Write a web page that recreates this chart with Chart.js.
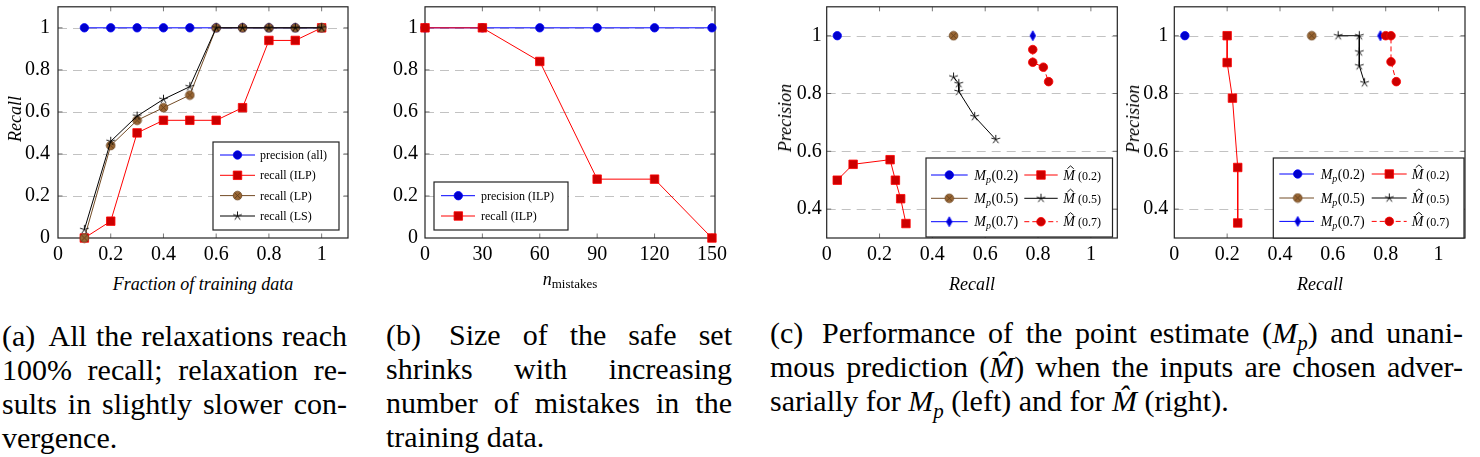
<!DOCTYPE html>
<html><head><meta charset="utf-8">
<script src="https://cdn.jsdelivr.net/npm/chart.js@4.4.0/dist/chart.umd.min.js"></script>
<style>
html,body{margin:0;padding:0;background:#fff;}
body{width:1480px;height:457px;position:relative;overflow:hidden;font-family:'Liberation Serif';color:#000;}
canvas{position:absolute;top:0;}
.t{position:absolute;font-family:'Liberation Serif';font-style:italic;font-size:18px;line-height:18px;white-space:nowrap;}
.cap{position:absolute;font-family:'Liberation Serif';font-size:30px;line-height:34px;}
.cap div{text-align:justify;text-align-last:justify;}
.cap div.last{text-align:left;text-align-last:left;}
.cap sub{font-size:21px;vertical-align:-7px;line-height:0;font-style:italic;}
</style>
</head><body>
<canvas id="c1" width="360" height="270" style="left:0px"></canvas>
<canvas id="c2" width="360" height="270" style="left:370px"></canvas>
<canvas id="c3" width="370" height="270" style="left:760px"></canvas>
<canvas id="c4" width="360" height="270" style="left:1120px"></canvas>

<div class="t" style="left:15px;top:119px;transform:translate(-50%,-50%) rotate(-90deg);">Recall</div>
<div class="t" style="left:203px;top:284px;transform:translate(-50%,-50%);">Fraction of training data</div>
<div class="t" style="left:570px;top:270px;transform:translateX(-50%);"><i>n</i><span style="font-style:normal;font-size:13px;position:relative;top:3px;">mistakes</span></div>
<div class="t" style="left:785px;top:118px;transform:translate(-50%,-50%) rotate(-90deg);">Precision</div>
<div class="t" style="left:972px;top:284px;transform:translate(-50%,-50%);">Recall</div>
<div class="t" style="left:1133px;top:119px;transform:translate(-50%,-50%) rotate(-90deg);">Precision</div>
<div class="t" style="left:1320px;top:284px;transform:translate(-50%,-50%);">Recall</div>

<div class="cap" style="left:2px;top:319px;width:345px;">
<div><span style="margin-right:6px">(a)</span> All the relaxations reach</div>
<div>100% recall; relaxation re-</div>
<div>sults in slightly slower con-</div>
<div class="last">vergence.</div>
</div>
<div class="cap" style="left:386px;top:318px;width:346px;">
<div><span style="margin-right:6px">(b)</span> Size of the safe set</div>
<div>shrinks with increasing</div>
<div>number of mistakes in the</div>
<div class="last">training data.</div>
</div>
<div class="cap" style="left:770px;top:316px;width:693px;">
<div><span style="margin-right:6px">(c)</span> Performance of the point estimate (<i>M</i><sub>p</sub>) and unani-</div>
<div>mous prediction (<i>M&#770;</i>) when the inputs are chosen adver-</div>
<div class="last">sarially for <i>M</i><sub>p</sub> (left) and for <i>M&#770;</i> (right).</div>
</div>

<script>
// ---------------- data ----------------
// (a) fraction of training data
const fracX      = [0.1, 0.2, 0.3, 0.4, 0.5, 0.6, 0.7, 0.8, 0.9, 1.0];
const precAll    = [1, 1, 1, 1, 1, 1, 1, 1, 1, 1];
const recallILP  = [0, 0.08, 0.5, 0.56, 0.56, 0.56, 0.62, 0.94, 0.94, 1];
const recallLP   = [0, 0.44, 0.56, 0.62, 0.68, 1, 1, 1, 1, 1];
const recallLS   = [0.04, 0.46, 0.58, 0.66, 0.72, 1, 1, 1, 1, 1];
const fracTicks  = [0, 0.2, 0.4, 0.6, 0.8, 1];
const rateTicks  = [0, 0.2, 0.4, 0.6, 0.8, 1];

// (b) number of mistakes
const mistakesX      = [0, 30, 60, 90, 120, 150];
const precILPm       = [1, 1, 1, 1, 1, 1];
const recallILPm     = [1, 1, 0.84, 0.28, 0.28, 0];
const mistakesTicks  = [0, 30, 60, 90, 120, 150];

// (c) left: adversarial for M_p   (x = recall, y = precision)
const lMp02R = [0.04], lMp02P = [1];
const lMh02R = [0.04, 0.10, 0.24, 0.26, 0.28, 0.30];
const lMh02P = [0.50, 0.555, 0.571, 0.50, 0.436, 0.35];
const lMp05R = [0.48], lMp05P = [1];
const lMh05R = [0.48, 0.50, 0.50, 0.56, 0.64];
const lMh05P = [0.857, 0.834, 0.807, 0.72, 0.641];
const lMp07R = [0.78], lMp07P = [1];
const lMh07R = [0.78, 0.78, 0.82, 0.84];
const lMh07P = [0.952, 0.908, 0.891, 0.841];

// (c) right: adversarial for M-hat
const rMp02R = [0.04], rMp02P = [1];
const rMh02R = [0.20, 0.20, 0.22, 0.24, 0.24];
const rMh02P = [1, 0.907, 0.784, 0.544, 0.352];
const rMp05R = [0.52], rMp05P = [1];
const rMh05R = [0.62, 0.70, 0.70, 0.70, 0.72];
const rMh05P = [1, 1, 0.944, 0.896, 0.837];
const rMp07R = [0.78], rMp07P = [1];
const rMh07R = [0.80, 0.82, 0.82, 0.84];
const rMh07P = [1, 1, 0.91, 0.841];

const prTicksX = [0, 0.2, 0.4, 0.6, 0.8, 1];
const prTicksY = [0.4, 0.6, 0.8, 1];

// ---------------- marker images ----------------
function mkCanvas(w, h, draw) { const c = document.createElement('canvas'); c.width = w; c.height = h; draw(c.getContext('2d'), w, h); return c; }
const starImg = mkCanvas(11, 11, (g) => {
  g.strokeStyle = '#000'; g.lineWidth = 0.9; g.beginPath();
  for (let k = 0; k < 5; k++) { const a = -Math.PI / 2 + k * 2 * Math.PI / 5; g.moveTo(5.5, 5.5); g.lineTo(5.5 + 4.6 * Math.cos(a), 5.5 + 4.6 * Math.sin(a)); }
  g.stroke();
});
const otimesImg = mkCanvas(11, 11, (g) => {
  g.fillStyle = '#996633'; g.strokeStyle = '#734C26'; g.lineWidth = 0.9;
  g.beginPath(); g.arc(5.5, 5.5, 4.3, 0, Math.PI * 2); g.fill(); g.stroke();
  g.beginPath(); const d = 3.0;
  g.moveTo(5.5 - d, 5.5 - d); g.lineTo(5.5 + d, 5.5 + d); g.moveTo(5.5 + d, 5.5 - d); g.lineTo(5.5 - d, 5.5 + d);
  g.strokeStyle = '#5a3a1a'; g.lineWidth = 0.8; g.stroke();
});
const diamondImg = mkCanvas(8, 12, (g) => {
  g.fillStyle = '#0000CC'; g.strokeStyle = '#0000FF'; g.lineWidth = 0.8;
  g.beginPath(); g.moveTo(4, 1); g.lineTo(6.8, 6); g.lineTo(4, 11); g.lineTo(1.2, 6); g.closePath(); g.fill(); g.stroke();
});

const STY = {
  blueCircle:  {line: '#0000FF', ps: 'circle', r: 4.2, bg: '#0000CC', bd: '#0000FF'},
  redSquare:   {line: '#FF0000', ps: 'rect', r: 6.0, bg: '#CC0000', bd: '#FF0000'},
  brownOtimes: {line: '#734C26', ps: otimesImg, r: 4.3},
  blackStar:   {line: '#000000', ps: starImg, r: 4.5},
  blueDiamond: {line: '#0000FF', ps: diamondImg, r: 4.5},
  redCircleD:  {line: '#FF0000', ps: 'circle', r: 4.3, bg: '#CC0000', bd: '#FF0000', dash: [5, 3]},
};

function mk(xs, ys, s, label) {
  return {
    label: label, data: xs.map((x, i) => ({x: x, y: ys[i]})), showLine: true, clip: false,
    borderColor: s.line, borderWidth: 1, borderDash: s.dash || [], tension: 0, fill: false,
    pointStyle: s.ps, pointRadius: s.r, pointHoverRadius: s.r,
    pointBackgroundColor: s.bg || s.line, pointBorderColor: s.bd || s.line, pointBorderWidth: 0.8,
  };
}

// ---------------- plugins ----------------
const framePlugin = {
  id: 'frame',
  beforeDatasetsDraw(chart) {
    const {ctx, chartArea: a} = chart; const x = chart.scales.x, y = chart.scales.y;
    ctx.save();
    ctx.strokeStyle = '#c2c2c2'; ctx.lineWidth = 1; ctx.setLineDash([9, 6]);
    y.ticks.forEach(t => { const py = Math.round(y.getPixelForValue(t.value)) + 0.5;
      if (py > a.top + 2 && py < a.bottom - 2) { ctx.beginPath(); ctx.moveTo(a.left, py); ctx.lineTo(a.right, py); ctx.stroke(); } });
    ctx.setLineDash([]);
    ctx.strokeStyle = '#555'; ctx.lineWidth = 0.8;
    x.ticks.forEach(t => { const px = x.getPixelForValue(t.value);
      if (px > a.left + 2 && px < a.right - 2) { ctx.beginPath(); ctx.moveTo(px, a.bottom); ctx.lineTo(px, a.bottom - 4.5); ctx.moveTo(px, a.top); ctx.lineTo(px, a.top + 4.5); ctx.stroke(); } });
    y.ticks.forEach(t => { const py = y.getPixelForValue(t.value);
      if (py > a.top + 2 && py < a.bottom - 2) { ctx.beginPath(); ctx.moveTo(a.left, py); ctx.lineTo(a.left + 4.5, py); ctx.moveTo(a.right, py); ctx.lineTo(a.right - 4.5, py); ctx.stroke(); } });
    ctx.strokeStyle = '#222'; ctx.lineWidth = 1.2;
    ctx.strokeRect(a.left, a.top, a.right - a.left, a.bottom - a.top);
    ctx.restore();
  }
};

function drawMarker(ctx, ds, x, y) {
  const st = ds.pointStyle;
  ctx.save(); ctx.setLineDash([]);
  if (st instanceof HTMLCanvasElement) { ctx.drawImage(st, x - st.width / 2, y - st.height / 2); }
  else {
    ctx.fillStyle = ds.pointBackgroundColor; ctx.strokeStyle = ds.pointBorderColor; ctx.lineWidth = ds.pointBorderWidth;
    ctx.beginPath();
    if (st === 'rect') { const s = ds.pointRadius * Math.SQRT1_2; ctx.rect(x - s, y - s, 2 * s, 2 * s); }
    else ctx.arc(x, y, ds.pointRadius, 0, Math.PI * 2);
    ctx.fill(); ctx.stroke();
  }
  ctx.restore();
}

const SERIF = 'Liberation Serif';
function drawParts(ctx, parts, x, yb) {
  let cx = x;
  parts.forEach(p => {
    ctx.font = p.f; ctx.fillStyle = '#000'; ctx.textBaseline = 'alphabetic'; ctx.textAlign = 'left';
    const w = ctx.measureText(p.t).width;
    ctx.fillText(p.t, cx, yb + (p.dy || 0));
    if (p.hat) {
      const hx = cx + w * 0.62, hy = yb - 12.5;
      ctx.save(); ctx.strokeStyle = '#000'; ctx.lineWidth = 0.9; ctx.beginPath();
      ctx.moveTo(hx - 3.2, hy + 1.6); ctx.lineTo(hx, hy - 1.2); ctx.lineTo(hx + 3.2, hy + 1.6); ctx.stroke(); ctx.restore();
    }
    cx += w + (p.gap || 0);
  });
}

const legendPlugin = {
  id: 'boxLegend',
  afterDatasetsDraw(chart, args, o) {
    if (!o || !o.items) return;
    const {ctx, chartArea: a} = chart;
    const bx = o.anchor === 'sw' ? a.left + o.inset : a.right - o.inset - o.w;
    const by = a.bottom - o.bottom - o.h;
    ctx.save();
    ctx.fillStyle = '#fff'; ctx.fillRect(bx, by, o.w, o.h);
    ctx.strokeStyle = '#222'; ctx.lineWidth = 1.2; ctx.strokeRect(bx, by, o.w, o.h);
    o.items.forEach(it => {
      const ds = chart.data.datasets[it.ds];
      const col = o.cols[it.col];
      const ry = by + o.rows[it.row];
      ctx.save();
      ctx.strokeStyle = ds.borderColor; ctx.lineWidth = 1; ctx.setLineDash(ds.borderDash || []);
      ctx.beginPath(); ctx.moveTo(bx + col.l0, ry); ctx.lineTo(bx + col.l1, ry); ctx.stroke();
      ctx.restore();
      drawMarker(ctx, ds, bx + col.m, ry);
      drawParts(ctx, it.parts, bx + col.t, ry + (o.base || 4.3));
    });
    ctx.restore();
  }
};

function plain(t, size) { return [{t: t, f: size + 'px ' + SERIF}]; }
function mpLabel(v) { return [{t: 'M', f: 'italic 14px ' + SERIF}, {t: 'p', f: 'italic 10px ' + SERIF, dy: 3, gap: 0.5}, {t: '(' + v + ')', f: '14px ' + SERIF}]; }
function mhLabel(v) { return [{t: 'M', f: 'italic 14px ' + SERIF, hat: true, gap: 3}, {t: '(' + v + ')', f: '12px ' + SERIF}]; }

const fmt = v => String(Math.round(v * 100) / 100);

function makeChart(id, datasets, c) {
  const n = datasets.length;
  datasets.forEach((d, i) => { d.order = n - i; });
  const tickFont = {family: SERIF, size: 20};
  return new Chart(document.getElementById(id), {
    type: 'scatter',
    data: {datasets: datasets},
    options: {
      responsive: false, animation: false, events: [],
      layout: {padding: {left: 0, top: 1, right: c.padRight, bottom: 0}},
      plugins: {legend: {display: false}, tooltip: {enabled: false}, boxLegend: c.legend},
      scales: {
        x: {
          type: 'linear', min: c.xMin, max: c.xMax,
          grid: {display: false, drawTicks: false}, border: {display: false},
          ticks: {font: tickFont, color: '#000', padding: 5, maxRotation: 0, autoSkip: false, callback: fmt},
          afterBuildTicks: s => { s.ticks = c.xTicks.map(v => ({value: v})); },
          afterFit: s => { s.height = 270 - 238; s.paddingLeft = 0; s.paddingRight = 0; s.paddingTop = 0; s.paddingBottom = 0; }
        },
        y: {
          type: 'linear', min: c.yMin, max: c.yMax,
          grid: {display: false, drawTicks: false}, border: {display: false},
          ticks: {font: tickFont, color: '#000', padding: c.yPad, autoSkip: false, callback: fmt},
          afterBuildTicks: s => { s.ticks = c.yTicks.map(v => ({value: v})); },
          afterFit: s => { s.width = c.yW; s.paddingLeft = 0; s.paddingRight = 0; s.paddingTop = 0; s.paddingBottom = 0; }
        }
      }
    },
    plugins: [framePlugin, legendPlugin]
  });
}

// (a)
makeChart('c1', [
  mk(fracX, precAll, STY.blueCircle, 'precision (all)'),
  mk(fracX, recallILP, STY.redSquare, 'recall (ILP)'),
  mk(fracX, recallLP, STY.brownOtimes, 'recall (LP)'),
  mk(fracX, recallLS, STY.blackStar, 'recall (LS)'),
], {
  xMin: 0, xMax: 1.1, yMin: 0, yMax: 1.1, xTicks: fracTicks, yTicks: rateTicks, yW: 58, padRight: 12, yPad: 8,
  legend: {anchor: 'se', inset: 9, bottom: 8, w: 126, h: 88, rows: [13, 33.3, 53.6, 74], base: 4,
    cols: [{l0: 7, l1: 42, m: 24.5, t: 47}],
    items: [
      {ds: 0, col: 0, row: 0, parts: plain('precision (all)', 12)},
      {ds: 1, col: 0, row: 1, parts: plain('recall (ILP)', 12)},
      {ds: 2, col: 0, row: 2, parts: plain('recall (LP)', 12)},
      {ds: 3, col: 0, row: 3, parts: plain('recall (LS)', 12)},
    ]}
});

// (b)
makeChart('c2', [
  mk(mistakesX, precILPm, STY.blueCircle, 'precision (ILP)'),
  mk(mistakesX, recallILPm, STY.redSquare, 'recall (ILP)'),
], {
  xMin: 0, xMax: 151.6, yMin: 0, yMax: 1.1, xTicks: mistakesTicks, yTicks: rateTicks, yW: 55, padRight: 15, yPad: 7,
  legend: {anchor: 'sw', inset: 9, bottom: 8, w: 134, h: 48, rows: [13.7, 34], base: 4,
    cols: [{l0: 7, l1: 41, m: 24.3, t: 47}],
    items: [
      {ds: 0, col: 0, row: 0, parts: plain('precision (ILP)', 12)},
      {ds: 1, col: 0, row: 1, parts: plain('recall (ILP)', 12)},
    ]}
});

// (c) left
makeChart('c3', [
  mk(lMp02R, lMp02P, STY.blueCircle, 'Mp(0.2)'),
  mk(lMh02R, lMh02P, STY.redSquare, 'Mhat(0.2)'),
  mk(lMp05R, lMp05P, STY.brownOtimes, 'Mp(0.5)'),
  mk(lMh05R, lMh05P, STY.blackStar, 'Mhat(0.5)'),
  mk(lMp07R, lMp07P, STY.blueDiamond, 'Mp(0.7)'),
  mk(lMh07R, lMh07P, STY.redCircleD, 'Mhat(0.7)'),
], {
  xMin: 0, xMax: 1.1, yMin: 0.3, yMax: 1.1, xTicks: prTicksX, yTicks: prTicksY, yW: 66.7, padRight: 12.7, yPad: 5,
  legend: {anchor: 'se', inset: 4.8, bottom: 1, w: 186.5, h: 79, rows: [17, 40.3, 63.7], base: 4.6,
    cols: [{l0: 5, l1: 41.7, m: 23.3, t: 48.3}, {l0: 98.3, l1: 131.7, m: 115, t: 137.3}],
    items: [
      {ds: 0, col: 0, row: 0, parts: mpLabel('0.2')},
      {ds: 1, col: 1, row: 0, parts: mhLabel('0.2')},
      {ds: 2, col: 0, row: 1, parts: mpLabel('0.5')},
      {ds: 3, col: 1, row: 1, parts: mhLabel('0.5')},
      {ds: 4, col: 0, row: 2, parts: mpLabel('0.7')},
      {ds: 5, col: 1, row: 2, parts: mhLabel('0.7')},
    ]}
});

// (c) right
makeChart('c4', [
  mk(rMp02R, rMp02P, STY.blueCircle, 'Mp(0.2)'),
  mk(rMh02R, rMh02P, STY.redSquare, 'Mhat(0.2)'),
  mk(rMp05R, rMp05P, STY.brownOtimes, 'Mp(0.5)'),
  mk(rMh05R, rMh05P, STY.blackStar, 'Mhat(0.5)'),
  mk(rMp07R, rMp07P, STY.blueDiamond, 'Mp(0.7)'),
  mk(rMh07R, rMh07P, STY.redCircleD, 'Mhat(0.7)'),
], {
  xMin: 0, xMax: 1.1, yMin: 0.3, yMax: 1.1, xTicks: prTicksX, yTicks: prTicksY, yW: 54.3, padRight: 15, yPad: 6,
  legend: {anchor: 'se', inset: 1, bottom: 0, w: 190.7, h: 80, rows: [16, 40, 63.4], base: 4.6,
    cols: [{l0: 6, l1: 40.7, m: 24.4, t: 47.4}, {l0: 98.4, l1: 133.4, m: 116, t: 138.4}],
    items: [
      {ds: 0, col: 0, row: 0, parts: mpLabel('0.2')},
      {ds: 1, col: 1, row: 0, parts: mhLabel('0.2')},
      {ds: 2, col: 0, row: 1, parts: mpLabel('0.5')},
      {ds: 3, col: 1, row: 1, parts: mhLabel('0.5')},
      {ds: 4, col: 0, row: 2, parts: mpLabel('0.7')},
      {ds: 5, col: 1, row: 2, parts: mhLabel('0.7')},
    ]}
});
</script>
</body></html>
